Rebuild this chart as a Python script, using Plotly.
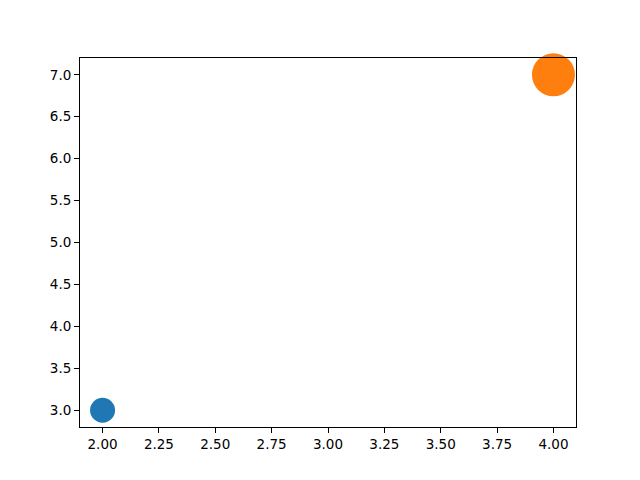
import plotly.graph_objects as go

xs = [2, 4]
ys = [3, 7]
sizes = [25, 43]
colors = ["#1f77b4", "#ff7f0e"]

fig = go.Figure()
for x, y, s, c in zip(xs, ys, sizes, colors):
    fig.add_trace(go.Scatter(x=[x], y=[y], mode="markers",
                             marker=dict(size=s, color=c, line=dict(width=0)),
                             cliponaxis=False, showlegend=False))

axis_common = dict(showgrid=False, zeroline=False, showline=True, linecolor="black",
                   linewidth=1, mirror=True, ticks="outside", ticklen=5,
                   tickcolor="black", tickfont=dict(family="DejaVu Sans", size=13.5, color="black"))

fig.update_layout(
    width=640, height=480,
    margin=dict(l=72, r=72, t=50, b=61),
    plot_bgcolor="white", paper_bgcolor="white",
    xaxis=dict(range=[1.9, 4.1], tickvals=[2.0, 2.25, 2.5, 2.75, 3.0, 3.25, 3.5, 3.75, 4.0],
               ticktext=["2.00", "2.25", "2.50", "2.75", "3.00", "3.25", "3.50", "3.75", "4.00"],
               **axis_common),
    yaxis=dict(range=[2.8, 7.2], tickvals=[3.0, 3.5, 4.0, 4.5, 5.0, 5.5, 6.0, 6.5, 7.0],
               ticktext=["3.0", "3.5", "4.0", "4.5", "5.0", "5.5", "6.0", "6.5", "7.0"],
               **axis_common),
)

fig.write_html("out.html")
